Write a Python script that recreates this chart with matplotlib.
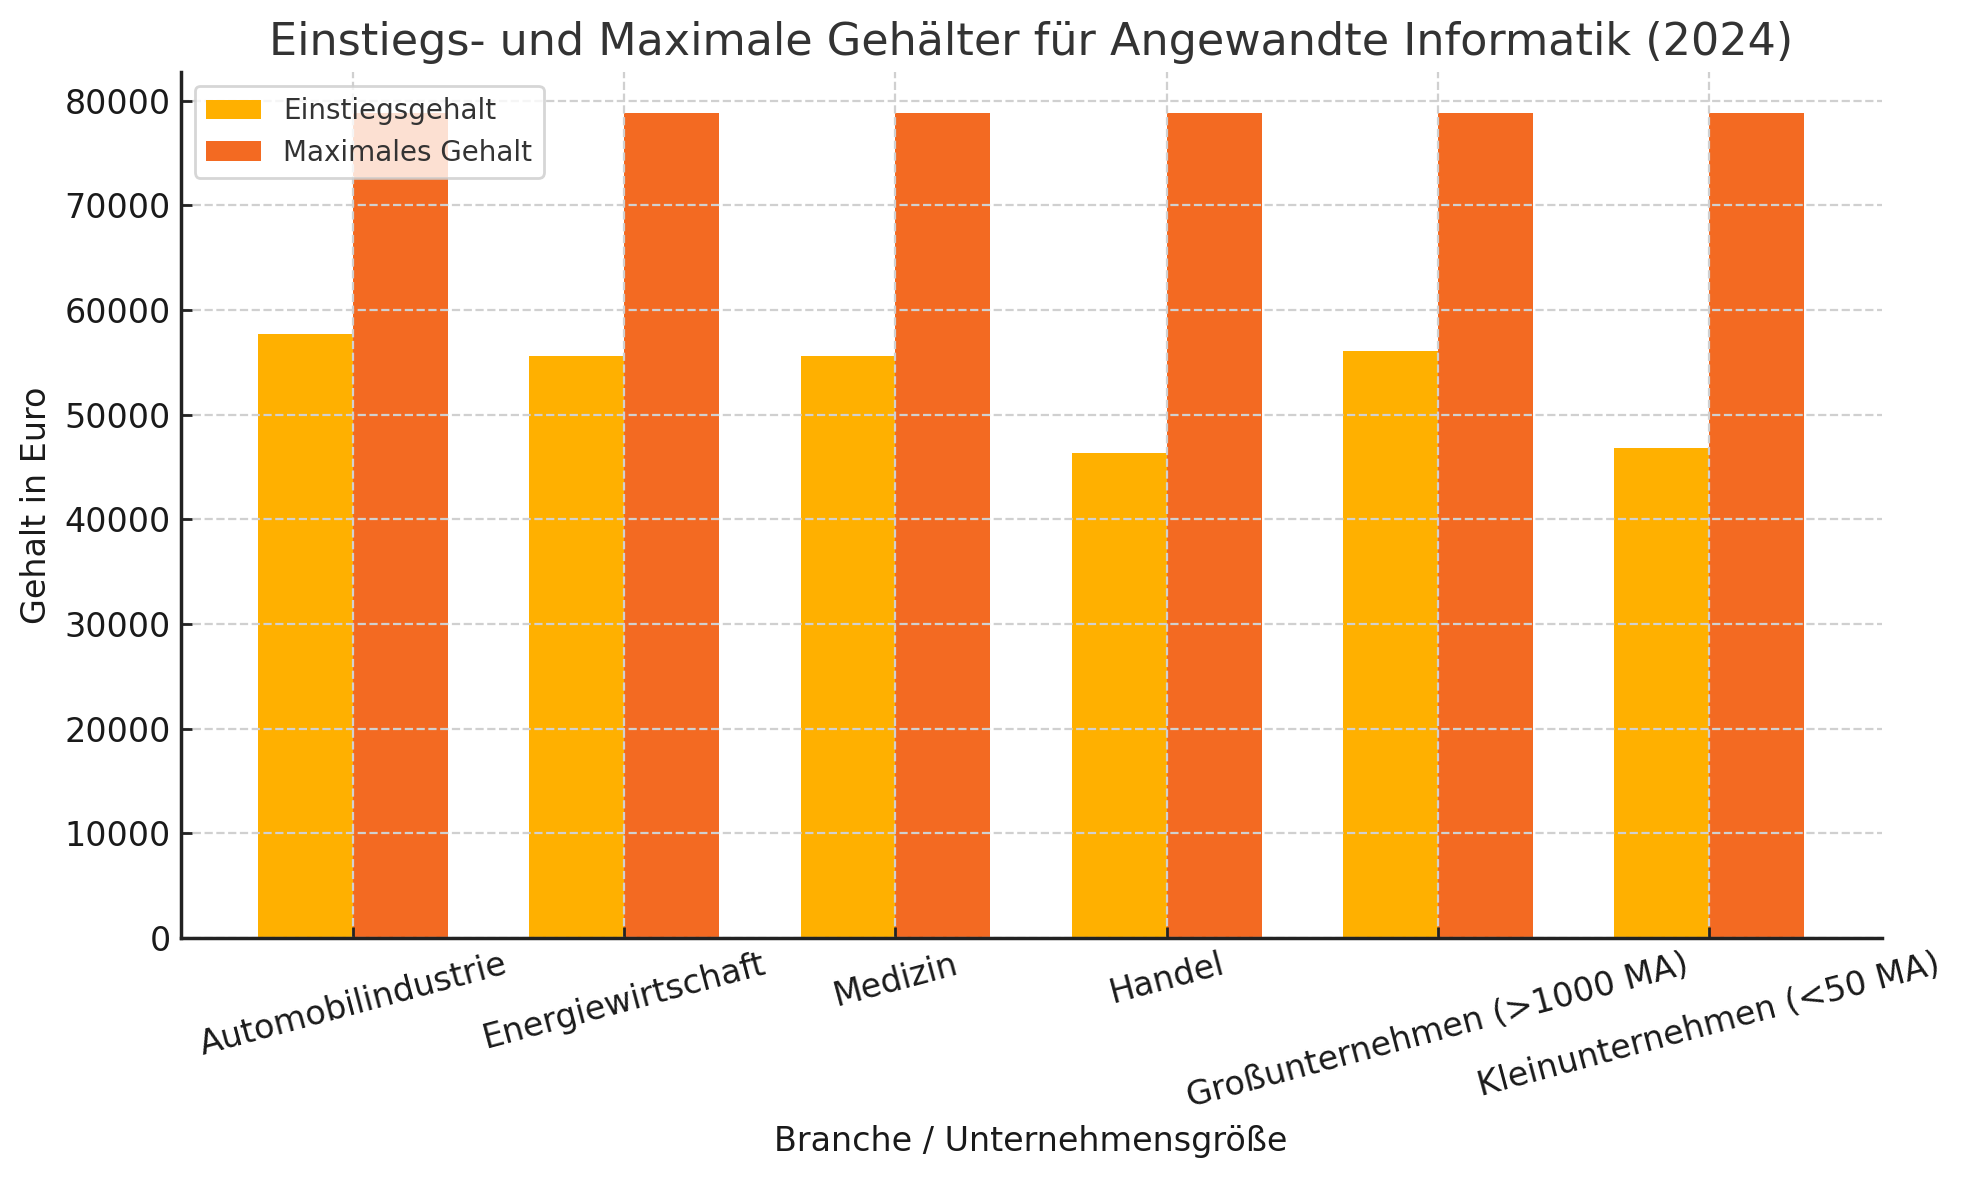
import numpy as np
import matplotlib
matplotlib.use("Agg")
import matplotlib.pyplot as plt

kategorien = ["Automobilindustrie", "Energiewirtschaft", "Medizin", "Handel",
              "Großunternehmen (>1000 MA)", "Kleinunternehmen (<50 MA)"]
einstiegsgehalt = [57700, 55600, 55600, 46300, 56100, 46800]
maximales_gehalt = [78800, 78800, 78800, 78800, 78800, 78800]

plt.rcParams['font.family'] = ['DejaVu Sans']

fig = plt.figure(figsize=(9.82, 5.9), dpi=200)
ax = fig.add_axes([0.092, 0.205, 0.866, 0.734])

x = np.arange(len(kategorien))
w = 0.35
ax.bar(x - w / 2, einstiegsgehalt, w, color='#FFB000', label='Einstiegsgehalt')
ax.bar(x + w / 2, maximales_gehalt, w, color='#F36A22', label='Maximales Gehalt')

ax.set_xticks(x)
ax.set_xticklabels(kategorien, rotation=15, fontsize=12, color='#1a1a1a')
ax.tick_params(axis='y', labelsize=12, labelcolor='#1a1a1a')
ax.tick_params(direction='in', length=4, width=1, color='#222222')

ax.set_title("Einstiegs- und Maximale Gehälter für Angewandte Informatik (2024)",
             fontsize=16, color='#333333')
ax.set_xlabel("Branche / Unternehmensgröße", fontsize=12, color='#1a1a1a')
ax.set_ylabel("Gehalt in Euro", fontsize=12, color='#1a1a1a')

ax.grid(True, linestyle='--', color='#d0d0d0', linewidth=0.8)
ax.set_axisbelow(False)

for s in ['top', 'right']:
    ax.spines[s].set_visible(False)
for s in ['left', 'bottom']:
    ax.spines[s].set_linewidth(1.25)
    ax.spines[s].set_color('#222222')
    ax.spines[s].set_zorder(3)

leg = ax.legend(loc='upper left', fontsize=10, framealpha=0.8, edgecolor='#cccccc')
for t in leg.get_texts():
    t.set_color('#333333')

fig.savefig("out.png", dpi=200)
